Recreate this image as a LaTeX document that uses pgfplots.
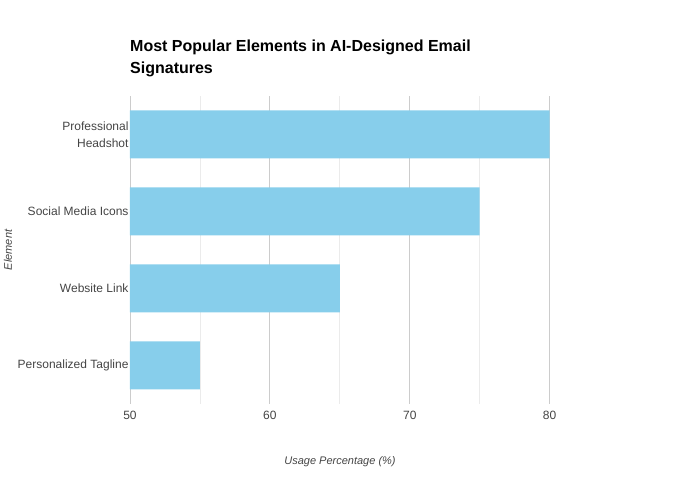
\documentclass[border=0pt]{standalone}
\usepackage{pgfplots}
\pgfplotsset{compat=1.18}
\usepackage{fontspec}
\setmainfont{Liberation Sans}
\definecolor{bar}{HTML}{87CEEB}
\definecolor{txt}{HTML}{444444}
\definecolor{gmaj}{HTML}{CCCCCC}
\definecolor{gmin}{HTML}{EBEBEB}
\begin{document}
\begin{tikzpicture}[x=1pt,y=1pt]
\path (0,0) rectangle (680,500);
\begin{axis}[
  at={(130pt,96pt)}, anchor=south west,
  scale only axis, width=470pt, height=308pt,
  xbar, bar width=48pt,
  xmin=50, xmax=83.6,
  ymin=-0.5, ymax=3.5,
  ytick={0,1,2,3},
  yticklabels={Personalized Tagline, Website Link, Social Media Icons, {Professional\\Headshot}},
  xtick={50,60,70,80},
  minor xtick={55,65,75},
  xmajorgrids, xminorgrids,
  major grid style={gmaj, line width=0.8pt},
  minor grid style={gmin, line width=0.8pt},
  axis line style={draw=none},
  major tick length=0pt, minor tick length=0pt,
  tick label style={font=\fontsize{12}{17}\selectfont, text=txt},
  yticklabel style={align=right},
  yticklabel shift=-2pt,
  xticklabel shift=4pt,
  /pgf/number format/assume math mode=true,
  clip=true,
]
\addplot[fill=bar, draw=none] coordinates {(55,0) (65,1) (75,2) (80,3)};
\end{axis}
\node[anchor=base west, inner sep=0pt, font=\fontsize{16}{20}\selectfont\bfseries] at (130,500-52) {Most Popular Elements in AI-Designed Email};
\node[anchor=base west, inner sep=0pt, font=\fontsize{16}{20}\selectfont\bfseries] at (130,500-74) {Signatures};
\node[rotate=90, font=\fontsize{11}{13}\selectfont\itshape, text=txt] at (8,250) {Element};
\node[font=\fontsize{11}{13}\selectfont\itshape, text=txt] at (340,500-462) {Usage Percentage (\%)};
\end{tikzpicture}
\end{document}
